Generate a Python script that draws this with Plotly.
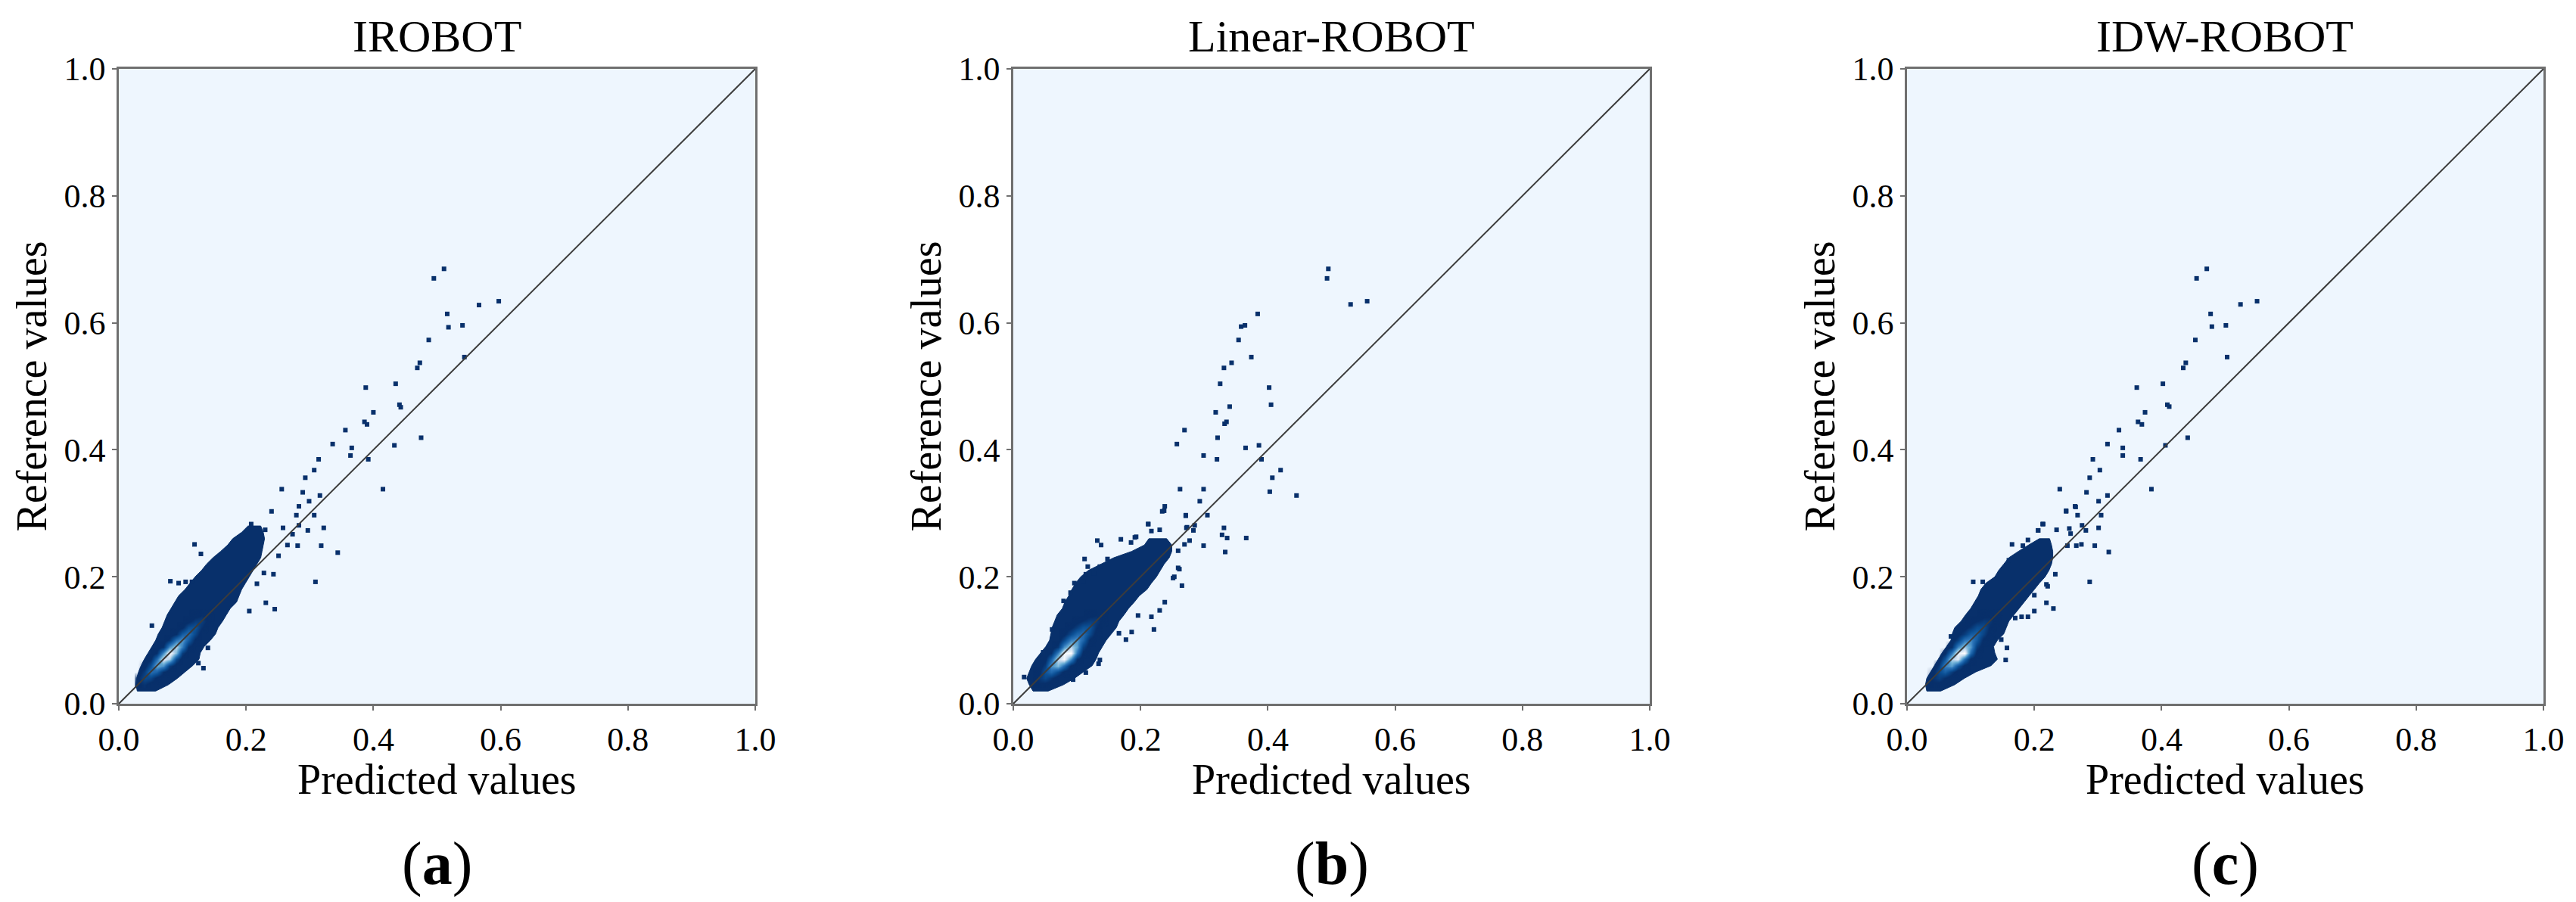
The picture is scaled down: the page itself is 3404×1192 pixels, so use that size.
import plotly.graph_objects as go

FONT = "Liberation Serif"
NAVY = "#08306b"
FRAME = "#6f6f6f"
PLOT_BG = "#eef6fe"

PANELS = ["IROBOT", "Linear-ROBOT", "IDW-ROBOT"]
LABELS = ["a", "b", "c"]
TICKS = [0.0, 0.2, 0.4, 0.6, 0.8, 1.0]
ONE_TO_ONE = [0.0, 1.0]

# dense cloud: for every reference-value row, the predicted-value extent
A_ROWS = [0.02, 0.03, 0.04, 0.05, 0.06, 0.07, 0.08, 0.09, 0.10, 0.11, 0.12, 0.13, 0.14,
          0.15, 0.16, 0.17, 0.18, 0.19, 0.20, 0.21, 0.22, 0.23, 0.24, 0.25, 0.26, 0.27, 0.28]
A_LO = [0.029, 0.027, 0.028, 0.031, 0.035, 0.040, 0.046, 0.052, 0.058, 0.062, 0.068, 0.072, 0.076,
        0.082, 0.088, 0.094, 0.104, 0.112, 0.120, 0.130, 0.138, 0.148, 0.160, 0.171, 0.179, 0.193, 0.203]
A_HI = [0.058, 0.078, 0.092, 0.104, 0.116, 0.126, 0.128, 0.134, 0.144, 0.152, 0.156, 0.163, 0.169,
        0.175, 0.185, 0.189, 0.193, 0.199, 0.205, 0.211, 0.217, 0.223, 0.225, 0.227, 0.229, 0.227, 0.223]

B_ROWS = [0.02, 0.03, 0.04, 0.05, 0.06, 0.07, 0.08, 0.09, 0.10, 0.11, 0.12, 0.13, 0.14,
          0.15, 0.16, 0.17, 0.18, 0.19, 0.20, 0.21, 0.22, 0.23, 0.24, 0.25, 0.26]
B_LO = [0.031, 0.025, 0.021, 0.025, 0.029, 0.035, 0.043, 0.051, 0.057, 0.059, 0.061, 0.065, 0.069,
        0.077, 0.081, 0.087, 0.092, 0.098, 0.106, 0.118, 0.138, 0.158, 0.186, 0.206, 0.213]
B_HI = [0.055, 0.079, 0.096, 0.110, 0.124, 0.130, 0.134, 0.140, 0.146, 0.154, 0.162, 0.166, 0.174,
        0.181, 0.190, 0.198, 0.210, 0.217, 0.225, 0.231, 0.237, 0.245, 0.249, 0.249, 0.241]

C_ROWS = [0.02, 0.03, 0.04, 0.05, 0.06, 0.07, 0.08, 0.09, 0.10, 0.11, 0.12, 0.13, 0.14,
          0.15, 0.16, 0.17, 0.18, 0.19, 0.20, 0.21, 0.22, 0.23, 0.24, 0.25, 0.26]
C_LO = [0.031, 0.029, 0.031, 0.037, 0.043, 0.049, 0.055, 0.062, 0.069, 0.071, 0.075, 0.085, 0.092,
        0.100, 0.106, 0.112, 0.116, 0.124, 0.138, 0.144, 0.152, 0.160, 0.175, 0.191, 0.208]
C_HI = [0.053, 0.075, 0.090, 0.108, 0.132, 0.142, 0.138, 0.136, 0.142, 0.152, 0.156, 0.160, 0.168,
        0.176, 0.184, 0.192, 0.200, 0.208, 0.217, 0.223, 0.227, 0.229, 0.229, 0.227, 0.224]

# relative point density in the core of the cloud (rows = reference, cols = predicted)
CORE_GRID = [0.03, 0.04, 0.05, 0.06, 0.07, 0.08, 0.09, 0.10, 0.11, 0.12, 0.13, 0.14, 0.15]
A_CORE = [
    [0.06, 0.10, 0, 0, 0, 0, 0, 0, 0, 0, 0, 0, 0],
    [0.05, 0.22, 0.20, 0.04, 0, 0, 0, 0, 0, 0, 0, 0, 0],
    [0, 0.15, 0.42, 0.35, 0.08, 0, 0, 0, 0, 0, 0, 0, 0],
    [0, 0.03, 0.25, 0.65, 0.55, 0.15, 0, 0, 0, 0, 0, 0, 0],
    [0, 0, 0.05, 0.40, 0.90, 0.78, 0.22, 0, 0, 0, 0, 0, 0],
    [0, 0, 0, 0.08, 0.55, 1.00, 0.68, 0.15, 0, 0, 0, 0, 0],
    [0, 0, 0, 0, 0.10, 0.55, 0.80, 0.48, 0.08, 0, 0, 0, 0],
    [0, 0, 0, 0, 0, 0.12, 0.45, 0.58, 0.32, 0.04, 0, 0, 0],
    [0, 0, 0, 0, 0, 0, 0.08, 0.33, 0.42, 0.20, 0, 0, 0],
    [0, 0, 0, 0, 0, 0, 0, 0.05, 0.25, 0.28, 0.10, 0, 0],
    [0, 0, 0, 0, 0, 0, 0, 0, 0.04, 0.15, 0.16, 0.04, 0],
    [0, 0, 0, 0, 0, 0, 0, 0, 0, 0.03, 0.08, 0.05, 0],
    [0, 0, 0, 0, 0, 0, 0, 0, 0, 0, 0, 0, 0],
]
B_CORE = [
    [0, 0.07, 0.03, 0, 0, 0, 0, 0, 0, 0, 0, 0, 0],
    [0, 0.12, 0.22, 0.12, 0, 0, 0, 0, 0, 0, 0, 0, 0],
    [0, 0.04, 0.28, 0.40, 0.22, 0.03, 0, 0, 0, 0, 0, 0, 0],
    [0, 0, 0.15, 0.55, 0.70, 0.40, 0.05, 0, 0, 0, 0, 0, 0],
    [0, 0, 0.03, 0.35, 0.82, 0.97, 0.55, 0.10, 0, 0, 0, 0, 0],
    [0, 0, 0, 0.08, 0.50, 0.97, 1.00, 0.45, 0.05, 0, 0, 0, 0],
    [0, 0, 0, 0, 0.12, 0.55, 0.80, 0.62, 0.18, 0, 0, 0, 0],
    [0, 0, 0, 0, 0, 0.22, 0.50, 0.58, 0.38, 0.05, 0, 0, 0],
    [0, 0, 0, 0, 0, 0.04, 0.22, 0.38, 0.42, 0.22, 0.03, 0, 0],
    [0, 0, 0, 0, 0, 0, 0.05, 0.16, 0.28, 0.28, 0.10, 0, 0],
    [0, 0, 0, 0, 0, 0, 0, 0.03, 0.10, 0.16, 0.14, 0.04, 0],
    [0, 0, 0, 0, 0, 0, 0, 0, 0, 0.04, 0.08, 0.05, 0],
    [0, 0, 0, 0, 0, 0, 0, 0, 0, 0, 0, 0, 0],
]
C_CORE = [
    [0, 0.06, 0.02, 0, 0, 0, 0, 0, 0, 0, 0, 0, 0],
    [0, 0.10, 0.18, 0.08, 0, 0, 0, 0, 0, 0, 0, 0, 0],
    [0, 0.03, 0.22, 0.34, 0.15, 0, 0, 0, 0, 0, 0, 0, 0],
    [0, 0, 0.12, 0.50, 0.60, 0.28, 0.03, 0, 0, 0, 0, 0, 0],
    [0, 0, 0, 0.28, 0.78, 0.90, 0.40, 0.05, 0, 0, 0, 0, 0],
    [0, 0, 0, 0.05, 0.45, 0.93, 1.00, 0.40, 0.04, 0, 0, 0, 0],
    [0, 0, 0, 0, 0.08, 0.50, 0.75, 0.58, 0.15, 0, 0, 0, 0],
    [0, 0, 0, 0, 0, 0.16, 0.45, 0.52, 0.32, 0.04, 0, 0, 0],
    [0, 0, 0, 0, 0, 0.03, 0.16, 0.32, 0.36, 0.18, 0.02, 0, 0],
    [0, 0, 0, 0, 0, 0, 0.03, 0.12, 0.24, 0.24, 0.08, 0, 0],
    [0, 0, 0, 0, 0, 0, 0, 0.02, 0.08, 0.14, 0.12, 0.03, 0],
    [0, 0, 0, 0, 0, 0, 0, 0, 0, 0.03, 0.06, 0.04, 0],
    [0, 0, 0, 0, 0, 0, 0, 0, 0, 0, 0, 0, 0],
]

# scattered points outside the dense cloud
A_PX = [0.511, 0.495, 0.566, 0.597, 0.516, 0.518, 0.540, 0.487, 0.543, 0.473, 0.469, 0.435,
        0.388, 0.441, 0.443, 0.400, 0.386, 0.390, 0.356, 0.475, 0.433, 0.336, 0.366, 0.364,
        0.392, 0.314, 0.307, 0.293, 0.256, 0.415, 0.289, 0.316, 0.299, 0.283, 0.240, 0.279,
        0.307, 0.283, 0.322, 0.297, 0.273, 0.265, 0.281, 0.318, 0.344, 0.251, 0.309, 0.208,
        0.230, 0.228, 0.243, 0.217, 0.258, 0.119, 0.129, 0.081, 0.094, 0.105, 0.115, 0.052,
        0.245, 0.231, 0.205, 0.133, 0.125, 0.140]
A_PY = [0.685, 0.670, 0.628, 0.634, 0.614, 0.593, 0.596, 0.573, 0.546, 0.537, 0.529, 0.504,
        0.498, 0.471, 0.467, 0.459, 0.444, 0.440, 0.431, 0.419, 0.407, 0.409, 0.403, 0.391,
        0.385, 0.385, 0.368, 0.356, 0.338, 0.338, 0.333, 0.328, 0.319, 0.311, 0.303, 0.297,
        0.297, 0.281, 0.277, 0.273, 0.267, 0.250, 0.249, 0.249, 0.238, 0.233, 0.192, 0.283,
        0.274, 0.206, 0.204, 0.189, 0.277, 0.251, 0.236, 0.193, 0.190, 0.192, 0.192, 0.123,
        0.149, 0.159, 0.146, 0.056, 0.064, 0.088]

B_PX = [0.495, 0.493, 0.530, 0.556, 0.384, 0.358, 0.364, 0.354, 0.374, 0.343, 0.331, 0.325,
        0.402, 0.405, 0.340, 0.318, 0.332, 0.335, 0.269, 0.257, 0.321, 0.365, 0.386, 0.299,
        0.320, 0.390, 0.420, 0.407, 0.403, 0.445, 0.262, 0.299, 0.293, 0.238, 0.234, 0.271,
        0.305, 0.285, 0.272, 0.283, 0.331, 0.328, 0.336, 0.366, 0.299, 0.333, 0.277, 0.269,
        0.259, 0.265, 0.261, 0.253, 0.212, 0.217, 0.191, 0.237, 0.271, 0.212, 0.230, 0.273,
        0.169, 0.193, 0.132, 0.138, 0.185, 0.112, 0.148, 0.117, 0.136, 0.114, 0.127, 0.096,
        0.110, 0.090, 0.079, 0.259, 0.251, 0.238, 0.230, 0.217, 0.221, 0.196, 0.186, 0.177,
        0.166, 0.134, 0.136, 0.114, 0.094, 0.017, 0.047, 0.061]
B_PY = [0.685, 0.670, 0.629, 0.634, 0.614, 0.594, 0.596, 0.573, 0.546, 0.537, 0.529, 0.504,
        0.498, 0.471, 0.468, 0.459, 0.441, 0.444, 0.431, 0.409, 0.419, 0.403, 0.407, 0.391,
        0.385, 0.385, 0.368, 0.356, 0.334, 0.328, 0.338, 0.338, 0.319, 0.311, 0.303, 0.297,
        0.297, 0.281, 0.277, 0.273, 0.277, 0.266, 0.261, 0.261, 0.249, 0.239, 0.257, 0.251,
        0.241, 0.186, 0.212, 0.200, 0.283, 0.272, 0.262, 0.304, 0.296, 0.283, 0.274, 0.278,
        0.259, 0.263, 0.257, 0.250, 0.254, 0.228, 0.228, 0.216, 0.216, 0.204, 0.206, 0.190,
        0.192, 0.175, 0.162, 0.214, 0.198, 0.160, 0.147, 0.137, 0.117, 0.139, 0.113, 0.101,
        0.111, 0.063, 0.069, 0.049, 0.038, 0.042, 0.081, 0.117]

C_PX = [0.471, 0.455, 0.524, 0.550, 0.477, 0.479, 0.501, 0.453, 0.503, 0.438, 0.434, 0.402,
        0.361, 0.409, 0.412, 0.374, 0.363, 0.369, 0.333, 0.441, 0.406, 0.315, 0.339, 0.339,
        0.367, 0.292, 0.303, 0.287, 0.240, 0.384, 0.282, 0.315, 0.301, 0.264, 0.250, 0.268,
        0.305, 0.275, 0.301, 0.281, 0.295, 0.317, 0.274, 0.266, 0.252, 0.287, 0.214, 0.206,
        0.257, 0.233, 0.219, 0.250, 0.265, 0.213, 0.206, 0.235, 0.255, 0.165, 0.182, 0.190,
        0.160, 0.104, 0.119, 0.221, 0.219, 0.230, 0.200, 0.200, 0.190, 0.180, 0.170, 0.157,
        0.155, 0.148, 0.069]
C_PY = [0.685, 0.670, 0.629, 0.634, 0.614, 0.594, 0.596, 0.573, 0.546, 0.537, 0.529, 0.504,
        0.498, 0.471, 0.468, 0.459, 0.444, 0.440, 0.431, 0.419, 0.407, 0.409, 0.403, 0.391,
        0.385, 0.385, 0.368, 0.356, 0.338, 0.338, 0.333, 0.328, 0.319, 0.311, 0.303, 0.297,
        0.297, 0.281, 0.277, 0.273, 0.249, 0.239, 0.251, 0.249, 0.249, 0.192, 0.283, 0.273,
        0.268, 0.204, 0.188, 0.304, 0.310, 0.283, 0.273, 0.274, 0.276, 0.251, 0.249, 0.258,
        0.226, 0.192, 0.192, 0.185, 0.159, 0.150, 0.146, 0.171, 0.137, 0.137, 0.135, 0.088,
        0.069, 0.101, 0.106]

CLOUDS = [
    (A_ROWS, A_LO, A_HI, A_CORE, A_PX, A_PY),
    (B_ROWS, B_LO, B_HI, B_CORE, B_PX, B_PY),
    (C_ROWS, C_LO, C_HI, C_CORE, C_PX, C_PY),
]

# navy at low density, white where the points pile up
DENSITY_SCALE = [
    [0.0, "rgba(8,48,107,0)"],
    [0.08, "rgba(8,48,107,1)"],
    [0.25, "#0b4f94"],
    [0.45, "#2a73b8"],
    [0.65, "#6aaed6"],
    [0.82, "#c6dbef"],
    [1.0, "#ffffff"],
]

W, H = 3404, 1192
X_DOMAINS = [(149 / W, 990 / W), (1331 / W, 2172 / W), (2512 / W, 3353 / W)]
Y_DOMAIN = (1 - 922 / H, 1 - 83 / H)
Y_TITLE_X = [33 / W, 1215 / W, 2396 / W]


def outline_path(rows, lo, hi):
    # closed outline of the dense cloud, left edge up then right edge down
    xs = lo + hi[::-1]
    ys = rows + rows[::-1]
    pts = " L ".join(f"{x},{y}" for x, y in zip(xs, ys))
    return f"M {pts} Z"


fig = go.Figure()

for k, (rows, lo, hi, core, px, py) in enumerate(CLOUDS):
    xa = "x" if k == 0 else f"x{k + 1}"
    ya = "y" if k == 0 else f"y{k + 1}"

    # the navy body sits under every trace so the density core shows on top of it
    fig.add_shape(
        type="path", path=outline_path(rows, lo, hi),
        xref=xa, yref=ya, layer="below",
        fillcolor=NAVY, line=dict(color=NAVY, width=1),
    )
    fig.add_trace(go.Heatmap(
        x=CORE_GRID, y=CORE_GRID, z=core,
        zmin=0, zmax=1, zsmooth="best",
        colorscale=DENSITY_SCALE, showscale=False,
        xaxis=xa, yaxis=ya, hoverinfo="skip",
    ))
    fig.add_trace(go.Scatter(
        x=px, y=py, mode="markers",
        marker=dict(symbol="square", size=6, color=NAVY, line=dict(width=0)),
        xaxis=xa, yaxis=ya, showlegend=False,
        hovertemplate="pred=%{x:.3f}<br>ref=%{y:.3f}<extra></extra>",
    ))
    fig.add_trace(go.Scatter(
        x=ONE_TO_ONE, y=ONE_TO_ONE, mode="lines",
        line=dict(color="#3c3c3c", width=2),
        xaxis=xa, yaxis=ya, hoverinfo="skip", showlegend=False,
    ))

    axis_style = dict(
        range=[0, 1], tickvals=TICKS, ticktext=[f"{t:.1f}" for t in TICKS],
        ticks="outside", ticklen=6, tickwidth=2, tickcolor=FRAME,
        showline=True, linecolor=FRAME, linewidth=2.5, mirror=True,
        showgrid=False, zeroline=False, fixedrange=True, automargin=False,
        tickfont=dict(family=FONT, size=44, color="black"),
    )
    suffix = "" if k == 0 else str(k + 1)
    fig.layout["xaxis" + suffix] = dict(axis_style, domain=X_DOMAINS[k], anchor=ya)
    fig.layout["yaxis" + suffix] = dict(axis_style, domain=Y_DOMAIN, anchor=xa)

    cx = (X_DOMAINS[k][0] + X_DOMAINS[k][1]) / 2
    centered = dict(xref="paper", yref="paper", xanchor="center", yanchor="middle",
                    showarrow=False)
    fig.add_annotation(text=PANELS[k], x=cx, y=1 - 40 / H,
                       font=dict(family=FONT, size=60, color="black"), **centered)
    fig.add_annotation(text="Predicted values", x=cx, y=1 - 1022 / H,
                       font=dict(family=FONT, size=56, color="black"), **centered)
    fig.add_annotation(text="Reference values", x=Y_TITLE_X[k],
                       y=(Y_DOMAIN[0] + Y_DOMAIN[1]) / 2, textangle=-90,
                       font=dict(family=FONT, size=56, color="black"), **centered)
    fig.add_annotation(text=f"(<b>{LABELS[k]}</b>)", x=cx, y=1 - 1133 / H,
                       font=dict(family=FONT, size=80, color="black"), **centered)

fig.update_layout(
    width=W, height=H,
    margin=dict(l=0, r=0, t=0, b=0, autoexpand=False),
    plot_bgcolor=PLOT_BG, paper_bgcolor="white",
    showlegend=False,
)

fig.write_html("out.html")
